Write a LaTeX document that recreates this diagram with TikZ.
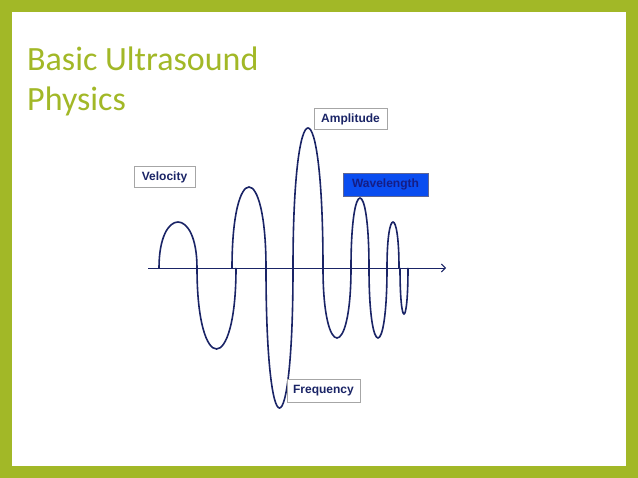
\documentclass[tikz,border=0pt]{standalone}
\usepackage{fontspec}
\setmainfont{Carlito}
\newfontfamily\labelfont{Liberation Sans}
\usetikzlibrary{arrows.meta}
\definecolor{slidegreen}{HTML}{A2B827}
\definecolor{wavenavy}{HTML}{1A2466}
\definecolor{tagblue}{HTML}{0A4DF0}
\tikzset{ tag/.style = { rectangle % label box
        , draw = gray!70
        , fill = white
        , inner sep = 2pt
        , minimum height = 21pt
        , font = \labelfont\bfseries\fontsize{12}{14}\selectfont
        , text = wavenavy
        }
        , wave/.style = { draw = wavenavy
        , line width = 1.6pt
        }
        }
% one lobe of the wave: start x, end x, peak y
\newcommand\lobe[3]{%
  \pgfmathsetmacro\ctly{268+((#3)-268)/0.75}%
  \draw [wave] (#1,268) .. controls (#1,\ctly) and (#2,\ctly) .. (#2,268);}

\begin{document}
\begin{tikzpicture}[x=1pt, y=-1pt]
        \fill [slidegreen] (0,0) rectangle (638,478);
        \fill [white] (12,12) rectangle (626,466);
        \node [anchor=north west, align=left, text=slidegreen, inner sep=0pt, font=\fontsize{34}{40}\selectfont] (title) at (27,47) {Basic Ultrasound\\Physics};

        \coordinate (axstart) at (148,268);
        \coordinate (axend) at (446,268);
        \draw [draw=wavenavy, line width=0.9pt, -{Straight Barb[length=4pt]}] (axstart) -- (axend);

        \lobe{159}{197}{222}
        \lobe{197}{236}{349}
        \lobe{232}{266}{187}
        \lobe{266}{293}{408}
        \lobe{293}{323}{128}
        \lobe{323}{351}{338}
        \lobe{351}{369}{198}
        \lobe{369}{387}{338}
        \lobe{387}{399}{222}
        \lobe{400}{408}{314}

        \node [tag, minimum width=61pt] (velocity) at (164.5,177) {Velocity};
        \node [tag, minimum width=73pt] (amplitude) at (350.5,119) {Amplitude};
        \node [tag, minimum width=85pt, minimum height=23pt, fill=tagblue, draw=wavenavy!70, text=wavenavy!80!blue] (wavelength) at (385.5,184.5) {Wavelength};
        \node [tag, minimum width=73pt, minimum height=23pt] (frequency) at (323.5,390.5) {Frequency};
\end{tikzpicture}
\end{document}
